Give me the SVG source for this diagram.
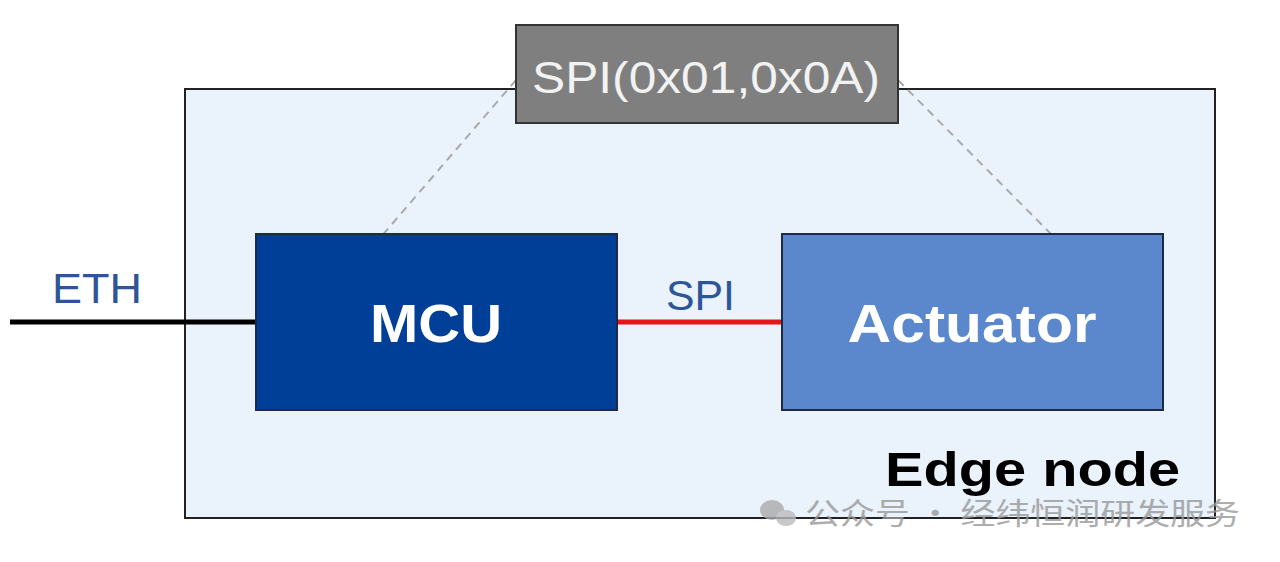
<svg xmlns="http://www.w3.org/2000/svg" width="1280" height="562" viewBox="0 0 1280 562">
<style>
.lbl{font-family:"Liberation Sans",Arial,sans-serif}
.blue{fill:#2e5597;font-size:42px}
.node{stroke:#1f2a44;stroke-width:2}
.w{fill:#fff;font-weight:bold;font-size:54px;text-anchor:middle}
</style>
<rect width="1280" height="562" fill="#fff"/>
<g id="edge-node">
<rect x="185" y="89" width="1030" height="429" fill="#eaf2fc" stroke="#222" stroke-width="2"/>
<text class="lbl" x="885" y="486" font-size="48" font-weight="bold" fill="#000" textLength="295" lengthAdjust="spacingAndGlyphs">Edge node</text>
</g>
<g id="connectors">
<line x1="516" y1="80" x2="380" y2="238" stroke="#aaa" stroke-width="2" stroke-dasharray="8,6"/>
<line x1="898" y1="80" x2="1055" y2="238" stroke="#aaa" stroke-width="2" stroke-dasharray="8,6"/>
<line x1="10" y1="322" x2="256" y2="322" stroke="#000" stroke-width="5"/>
<line x1="617" y1="322" x2="782" y2="322" stroke="#e8141b" stroke-width="5"/>
<text class="lbl blue" x="52" y="303" textLength="90" lengthAdjust="spacingAndGlyphs">ETH</text>
<text class="lbl blue" x="666" y="310" textLength="69" lengthAdjust="spacingAndGlyphs">SPI</text>
</g>
<g id="spi-label">
<rect x="516" y="25" width="382" height="98" fill="#7f7f7f" stroke="#333" stroke-width="2"/>
<text class="lbl" x="532" y="93" font-size="44" fill="#f2f2f2" textLength="348" lengthAdjust="spacingAndGlyphs">SPI(0x01,0x0A)</text>
</g>
<g id="mcu">
<rect class="node" x="256" y="234" width="361" height="176" fill="#003f98"/>
<text class="lbl w" x="436" y="342" textLength="132" lengthAdjust="spacingAndGlyphs">MCU</text>
</g>
<g id="actuator">
<rect class="node" x="782" y="234" width="381" height="176" fill="#5b87cc"/>
<text class="lbl w" x="972" y="342" textLength="249" lengthAdjust="spacingAndGlyphs">Actuator</text>
</g>
<g id="watermark" opacity="0.8">
<ellipse cx="772" cy="510" rx="12" ry="10" fill="#aaa"/>
<ellipse cx="786" cy="518" rx="10" ry="8" fill="#bbb"/>
<text x="805" y="524" font-size="30" fill="#999" font-family="'Noto Sans CJK SC',sans-serif" textLength="435" lengthAdjust="spacingAndGlyphs">公众号 · 经纬恒润研发服务</text>
</g>
</svg>
